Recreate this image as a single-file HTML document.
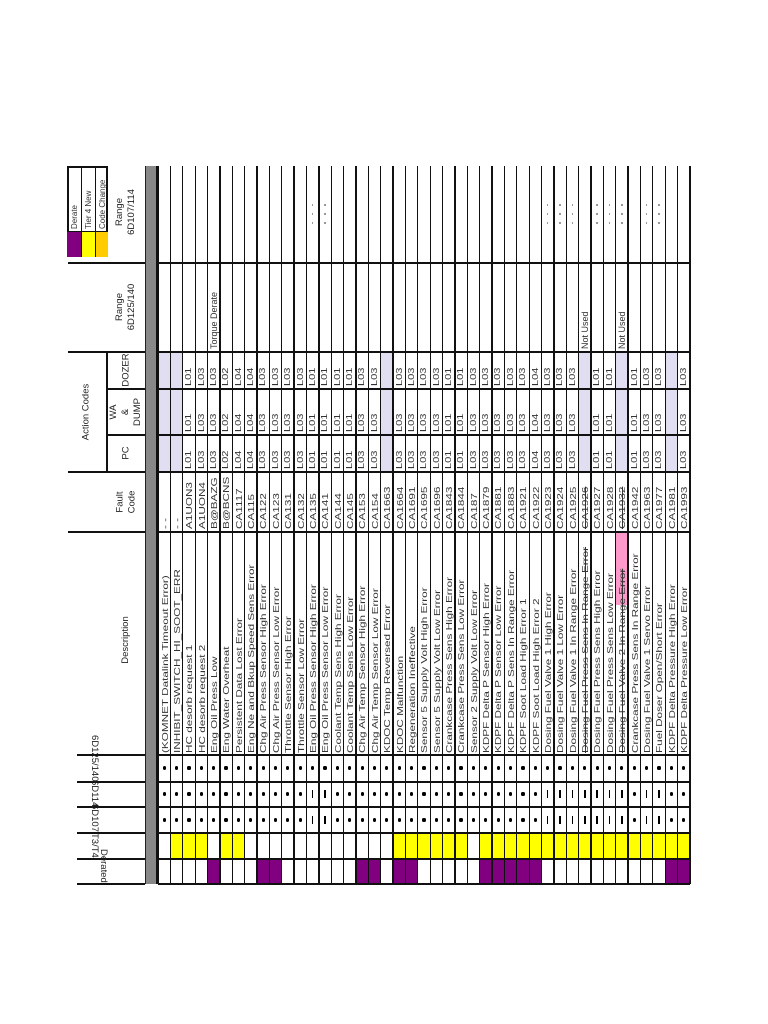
<!DOCTYPE html>
<html><head><meta charset="utf-8">
<style>
html,body{margin:0;padding:0;background:#fff;width:768px;height:1024px;overflow:hidden;position:relative;font-family:"Liberation Sans",sans-serif;}
.a{position:absolute;}
.t{position:absolute;white-space:nowrap;transform-origin:0 0;transform:rotate(-90deg) scaleX(1.38);font-size:8.5px;color:#333;}
.h{position:absolute;white-space:nowrap;font-size:9.5px;color:#222;text-align:center;line-height:12px;}
</style></head><body>
<div id="root"></div>
<script>
var R=document.getElementById('root');
function box(x,y,w,h,bg){var d=document.createElement('div');d.className='a';d.style.cssText='left:'+x+'px;top:'+y+'px;width:'+w+'px;height:'+h+'px;background:'+bg;R.appendChild(d);return d;}
function txt(x,ybot,s,h,fs,extra,noscale){var d=document.createElement('div');d.className='t';d.style.left=x+'px';d.style.top=ybot+'px';d.style.height=h+'px';d.style.lineHeight=h+'px';if(fs)d.style.fontSize=fs+'px';if(extra)d.style.cssText+=extra;if(noscale)d.style.transform='rotate(-90deg)';d.textContent=s;R.appendChild(d);return d;}
function htxt(cx,cy,lines,fs){var d=document.createElement('div');d.className='h';if(fs)d.style.fontSize=fs+'px';d.innerHTML=lines.join('<br>');R.appendChild(d);var w=d.offsetWidth,h=d.offsetHeight;d.style.left=(cx-w/2)+'px';d.style.top=(cy-h/2)+'px';d.style.transform='rotate(-90deg)';}
function ftxt(cx,ybot,s){var d=document.createElement('div');d.className='h';d.style.transformOrigin='0 0';d.textContent=s;R.appendChild(d);var w=d.offsetWidth;d.style.left=(cx+6)+'px';d.style.top=(ybot-w)+'px';d.style.transform='rotate(90deg)';}
var X0=158,RW=12.37,N=43,XE=690;
var rows=[
["(KOMNET Datalink Timeout Error)","- -",null,0,0,"",""],
["INHIBIT_SWITCH_HI_SOOT_ERR","- -",null,0,1,"",""],
["HC desorb request 1","A1UON3","L01",0,1],
["HC desorb request 2","A1UON4","L03",0,1],
["Eng Oil Press Low","B@BAZG","L03",1,0,"Torque Derate"],
["Eng Water Overheat","B@BCNS","L02",0,1],
["Persistent Data Lost Error","CA1117","L04",0,1],
["Eng Ne and Bkup Speed Sens Error","CA115","L04",0,0],
["Chg Air Press Sensor High Error","CA122","L03",1,0],
["Chg Air Press Sensor Low Error","CA123","L03",1,0],
["Throttle Sensor High Error","CA131","L03",0,0],
["Throttle Sensor Low Error","CA132","L03",0,0],
["Eng Oil Press Sensor High Error","CA135","L01",0,0,"",1,1],
["Eng Oil Press Sensor Low Error","CA141","L01",0,0,"",1,1],
["Coolant Temp Sens High Error","CA144","L01",0,0],
["Coolant Temp Sens Low Error","CA145","L01",0,0],
["Chg Air Temp Sensor High Error","CA153","L03",1,0],
["Chg Air Temp Sensor Low Error","CA154","L03",1,0],
["KDOC Temp Reversed Error","CA1663",null,0,0],
["KDOC Malfunction","CA1664","L03",1,1],
["Regeneration Ineffective","CA1691","L03",1,1],
["Sensor 5 Supply Volt High Error","CA1695","L03",0,1],
["Sensor 5 Supply Volt Low Error","CA1696","L03",0,1],
["Crankcase Press Sens High Error","CA1843","L01",0,1],
["Crankcase Press Sens Low Error","CA1844","L01",0,1],
["Sensor 2 Supply Volt Low Error","CA187","L03",0,0],
["KDPF Delta P Sensor High Error","CA1879","L03",1,1],
["KDPF Delta P Sensor Low Error","CA1881","L03",1,1],
["KDPF Delta P Sens In Range Error","CA1883","L03",1,1],
["KDPF Soot Load High Error 1","CA1921","L03",1,1],
["KDPF Soot Load High Error 2","CA1922","L04",1,1],
["Dosing Fuel Valve 1 High Error","CA1923","L03",0,1,"",1,1],
["Dosing Fuel Valve 1 Low Error","CA1924","L03",0,1,"",1,1],
["Dosing Fuel Valve 1 In Range Error","CA1925","L03",0,1,"",1,1],
["Dosing Fuel Press Sens In Range Error","CA1926",null,0,1,"Not Used",1,0,1],
["Dosing Fuel Press Sens High Error","CA1927","L01",0,1,"",1,1],
["Dosing Fuel Press Sens Low Error","CA1928","L01",0,1,"",1,1],
["Dosing Fuel Valve 2 In Range Error","CA1932",null,0,1,"Not Used",1,1,2],
["Crankcase Press Sens In Range Error","CA1942","L01",0,1],
["Dosing Fuel Valve 1 Servo Error","CA1963","L03",0,1,"",1,1],
["Fuel Doser Open/Short Error","CA1977","L03",0,1,"",1,1],
["KDPF Delta Pressure High Error","CA1981",null,1,1],
["KDPF Delta Pressure Low Error","CA1993","L03",1,1]
];
var C={der:[859,884],t34:[833,859]};
rows.forEach(function(r,i){
 var x=X0+i*RW;
 if(r[3])box(x,C.der[0],RW,C.der[1]-C.der[0],'#800080');
 if(r[4])box(x,C.t34[0],RW,C.t34[1]-C.t34[0],'#ffff00');
 if(r[2]===null)box(x,352,RW,120,'#e0def0');
 if(r[8]==2)box(x,532,RW,73,'#ff99cc');
 var strike=r[8]?'text-decoration:line-through;':'';
 txt(x+0.5,753,r[0],RW,8.5,strike);
 txt(x+0.5,529,r[1],RW,8.5,strike);
 if(r[2]){txt(x+0.5,469,r[2],RW,8);txt(x+0.5,432,r[2],RW,8);txt(x+0.5,386,r[2],RW,8);}
 if(r[5])txt(x+0.5,349,r[5],RW,9,"",1);
 var cx=x+RW/2;
 box(cx-1.6,768-1.6,3.2,3.2,'#000').style.borderRadius='50%';
 [794,820].forEach(function(y){
   if(r[6]&&r[6]!==""){box(cx-0.8,y-4,1.6,8,'#000');}
   else box(cx-1.6,y-1.6,3.2,3.2,'#000').style.borderRadius='50%';
 });
 if(r[7]){[205,214,223].forEach(function(y){box(cx-0.7,y-0.7,1.4,1.4,'#999');});}
});
for(var i=0;i<=N;i++){var x=X0+i*RW;box(x-0.6,166,1.3,884-166,'#111');}
[263,352,389,435,472,532,755,782,807,833,859,884].forEach(function(y){box(X0,y-0.6,XE-X0,1.3,'#111');});
box(145,166,13,718,'#888').style.cssText+='border-left:1.5px solid #222;border-right:2px solid #111;box-sizing:border-box;';
[263,352,472,532].forEach(function(y){box(68,y-0.6,77,1.3,'#111');});
[755,782,807,833,859,884].forEach(function(y){box(77,y-0.6,68,1.3,'#111');});
box(107,389-0.6,38,1.3,'#111');box(107,435-0.6,38,1.3,'#111');box(107-0.6,352,1.3,120,'#111');
ftxt(103,883,"Derated");
ftxt(94,858,"T3/T4");
ftxt(94,832,"6D107");
ftxt(94,807,"6D114");
ftxt(94,781,"6D125/140");
htxt(126,640,["Description"]);
htxt(126,502,["Fault","Code"]);
htxt(126,453,["PC"]);
htxt(126,412,["WA","&amp;","DUMP"]);
htxt(126,370,["DOZER"]);
htxt(86,412,["Action Codes"]);
htxt(126,307,["Range","6D125/140"]);
htxt(126,212,["Range","6D107/114"]);
var lg=box(67,166,41,91,'#fff');lg.style.cssText+='border:2px solid #111;box-sizing:border-box;';
box(67,231,14,26,'#800080');box(81,231,14,26,'#ffff00');box(95,231,13,26,'#ffcc00');
box(80.5,166,1,91,'#111');box(94.5,166,1,91,'#111');box(67,231,41,1,'#111');
txt(68,229,"Derate",13,8,"",1);txt(82,229,"Tier 4 New",13,8,"",1);txt(95.5,229,"Code Change",13,8,"",1);
</script>
</body></html>
